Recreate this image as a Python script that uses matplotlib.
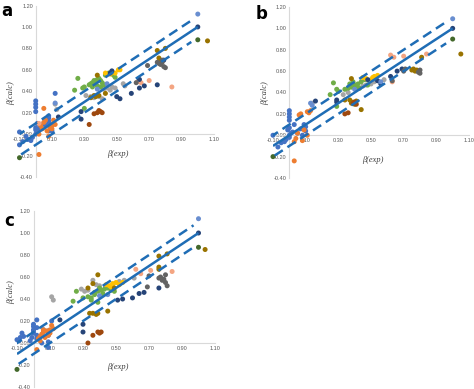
import matplotlib
matplotlib.use("Agg")
import matplotlib.pyplot as plt

plt.rcParams['lines.scale_dashes'] = False

W, H = 474, 389

# ---------------- series colours (Excel palette) ----------------
series_names = ["blue", "orange", "lorange", "gray", "green", "gold",
                "dgold", "brown", "dblue", "dgray", "lblue", "dgreen"]
series_colors = ["#4472C4", "#ED7D31", "#F4A582", "#A5A5A5", "#70AD47", "#FFC000",
                 "#997300", "#9E480E", "#264478", "#636363", "#698ED0", "#43682B"]

# ---------------- panel a ----------------
a_blue_x = [0.00, 0.00, 0.00, 0.00, 0.00, 0.00, 0.01, 0.02, 0.03, 0.00, -0.02, -0.05, -0.08, -0.10, -0.10, -0.06, 0.08, 0.08, 0.08, 0.08, 0.06, 0.05, 0.12, 0.10, 0.08, 0.01, -0.03]
a_blue_y = [0.31, 0.28, 0.25, 0.21, 0.06, 0.04, 0.02, 0.05, 0.07, 0.00, -0.03, -0.05, -0.07, -0.10, 0.02, -0.02, 0.17, 0.15, 0.12, 0.10, 0.08, 0.10, 0.38, 0.03, 0.03, 0.10, -0.06]
a_orange_x = [0.05, 0.03, 0.05, 0.07, 0.10, 0.10, 0.11, 0.09, 0.08, 0.02, 0.06, 0.02, 0.11, 0.12, 0.04]
a_orange_y = [0.24, 0.08, 0.11, 0.03, 0.08, 0.05, 0.10, 0.06, -0.02, -0.19, 0.13, 0.00, 0.13, 0.09, 0.05]
a_lorange_x = [0.84, 0.70, 0.63, 0.65, 0.02]
a_lorange_y = [0.44, 0.50, 0.49, 0.48, 0.10]
a_gray_x = [0.12, 0.13, 0.31, 0.34, 0.36, 0.39, 0.41, 0.42, 0.44, 0.47, 0.49, 0.54, 0.55, 0.46, 0.40]
a_gray_y = [0.28, 0.23, 0.36, 0.35, 0.34, 0.35, 0.33, 0.42, 0.43, 0.44, 0.43, 0.47, 0.45, 0.41, 0.44]
a_green_x = [0.26, 0.24, 0.29, 0.30, 0.33, 0.34, 0.35, 0.36, 0.37, 0.38, 0.39, 0.40, 0.41, 0.42, 0.43, 0.45, 0.48, 0.49, 0.35, 0.38, 0.40, 0.37, 0.30]
a_green_y = [0.52, 0.41, 0.43, 0.24, 0.46, 0.47, 0.48, 0.50, 0.49, 0.51, 0.52, 0.50, 0.48, 0.46, 0.55, 0.57, 0.55, 0.53, 0.44, 0.45, 0.44, 0.47, 0.44]
a_gold_x = [0.43, 0.46, 0.49, 0.51, 0.52, 0.47]
a_gold_y = [0.57, 0.56, 0.57, 0.60, 0.60, 0.58]
a_dgold_x = [0.38, 0.37, 0.36, 0.43, 0.75, 0.80, 0.76, 0.77, 1.06, 0.34, 0.39]
a_dgold_y = [0.55, 0.35, 0.36, 0.38, 0.78, 0.80, 0.71, 0.68, 0.87, 0.34, 0.36]
a_brown_x = [0.39, 0.40, 0.41, 0.38, 0.36, 0.33]
a_brown_y = [0.22, 0.21, 0.20, 0.20, 0.19, 0.09]
a_dblue_x = [0.28, 0.28, 0.14, 0.50, 0.52, 0.59, 0.64, 0.67, 0.75, 0.64, 0.47, 0.46, 1.00, 0.79]
a_dblue_y = [0.21, 0.14, 0.16, 0.35, 0.33, 0.38, 0.43, 0.45, 0.46, 0.51, 0.59, 0.57, 1.00, 0.69]
a_dgray_x = [0.69, 0.76, 0.77, 0.78, 0.79, 0.80, 0.78, 0.62, 0.75]
a_dgray_y = [0.64, 0.66, 0.65, 0.67, 0.63, 0.62, 0.69, 0.48, 0.67]
a_lblue_x = [1.00, 0.38, 0.12, 0.44]
a_lblue_y = [1.12, 0.42, 0.29, 0.47]
a_dgreen_x = [1.00, -0.10]
a_dgreen_y = [0.88, -0.22]

# ---------------- panel b ----------------
b_blue_x = [0.00, 0.00, 0.00, 0.00, 0.00, 0.01, 0.00, -0.01, -0.03, -0.05, -0.10, 0.10, 0.10, 0.09, 0.07, 0.05, 0.02, -0.02, 0.00, 0.03, -0.07, 0.08]
b_blue_y = [0.23, 0.20, 0.17, 0.14, 0.00, 0.02, -0.02, 0.05, -0.06, -0.07, 0.00, 0.08, 0.04, 0.10, 0.06, 0.02, 0.03, -0.04, 0.07, 0.10, -0.11, 0.00]
b_orange_x = [0.11, 0.13, 0.07, 0.06, 0.04, 0.03, 0.03, 0.08, 0.11, 0.12, 0.05, 0.09]
b_orange_y = [0.22, 0.23, 0.20, 0.19, -0.03, -0.06, -0.24, -0.05, 0.00, 0.21, 0.02, 0.05]
b_lorange_x = [0.62, 0.64, 0.70, 0.84, 0.63]
b_lorange_y = [0.75, 0.73, 0.74, 0.76, 0.50]
b_gray_x = [0.58, 0.33, 0.36, 0.40, 0.42, 0.45, 0.47, 0.50, 0.14, 0.52]
b_gray_y = [0.52, 0.38, 0.40, 0.45, 0.44, 0.46, 0.47, 0.48, 0.30, 0.50]
b_green_x = [0.27, 0.29, 0.30, 0.25, 0.29, 0.38, 0.40, 0.42, 0.44, 0.46, 0.48, 0.36, 0.34, 0.39, 0.41, 0.43, 0.37]
b_green_y = [0.49, 0.43, 0.41, 0.38, 0.27, 0.45, 0.47, 0.48, 0.50, 0.52, 0.47, 0.44, 0.43, 0.50, 0.46, 0.44, 0.48]
b_gold_x = [0.50, 0.51, 0.52, 0.54, 0.47, 0.45]
b_gold_y = [0.52, 0.54, 0.55, 0.56, 0.53, 0.54]
b_dgold_x = [0.37, 0.38, 0.39, 0.40, 0.41, 0.44, 0.38, 0.81, 0.75, 0.76, 0.77, 0.78, 1.05, 0.34]
b_dgold_y = [0.33, 0.30, 0.31, 0.29, 0.32, 0.24, 0.53, 0.73, 0.61, 0.62, 0.60, 0.61, 0.76, 0.33]
b_brown_x = [0.34, 0.36, 0.39, 0.40, 0.41]
b_brown_y = [0.20, 0.21, 0.30, 0.31, 0.29]
b_dblue_x = [0.29, 0.29, 0.16, 0.54, 0.56, 0.62, 0.66, 0.69, 1.00, 0.48]
b_dblue_y = [0.33, 0.31, 0.32, 0.51, 0.48, 0.55, 0.60, 0.62, 1.00, 0.52]
b_dgray_x = [0.71, 0.70, 0.80, 0.80, 0.79, 0.63]
b_dgray_y = [0.62, 0.60, 0.58, 0.61, 0.59, 0.51]
b_lblue_x = [1.00, 0.13, 0.14, 0.40, 0.56]
b_lblue_y = [1.09, 0.30, 0.28, 0.43, 0.50]
b_dgreen_x = [1.00, -0.10]
b_dgreen_y = [0.90, -0.20]

# ---------------- panel c ----------------
c_blue_x = [0.00, 0.00, 0.00, 0.00, 0.02, 0.02, 0.02, -0.02, 0.00, -0.01, 0.02, 0.05, 0.09, 0.09, 0.09, 0.09, -0.06, -0.08, -0.10, -0.09, -0.07, 0.06, 0.11]
c_blue_y = [0.17, 0.15, 0.12, 0.09, 0.14, 0.07, 0.04, 0.02, 0.11, 0.05, 0.21, 0.00, 0.11, 0.07, 0.01, -0.04, 0.06, 0.05, 0.03, 0.02, 0.09, 0.12, 0.20]
c_orange_x = [0.02, 0.04, 0.05, 0.06, 0.07, 0.08, 0.09, 0.10, 0.11, 0.12, 0.03, 0.06, 0.10, 0.04]
c_orange_y = [-0.06, 0.06, 0.08, 0.10, 0.05, 0.11, 0.07, 0.12, 0.16, 0.13, 0.04, 0.12, 0.09, 0.02]
c_lorange_x = [0.62, 0.65, 0.71, 0.84]
c_lorange_y = [0.67, 0.63, 0.66, 0.65]
c_gray_x = [0.11, 0.12, 0.29, 0.31, 0.36, 0.38, 0.40, 0.48, 0.52, 0.55, 0.61, 0.33, 0.44]
c_gray_y = [0.42, 0.39, 0.49, 0.47, 0.57, 0.53, 0.52, 0.53, 0.56, 0.57, 0.59, 0.48, 0.51]
c_green_x = [0.26, 0.24, 0.33, 0.35, 0.37, 0.39, 0.41, 0.43, 0.45, 0.47, 0.37, 0.39, 0.35, 0.42, 0.49, 0.30, 0.40]
c_green_y = [0.47, 0.38, 0.42, 0.41, 0.46, 0.47, 0.48, 0.49, 0.50, 0.48, 0.44, 0.37, 0.39, 0.45, 0.47, 0.41, 0.50]
c_gold_x = [0.44, 0.46, 0.48, 0.50, 0.52, 0.54, 0.47]
c_gold_y = [0.53, 0.52, 0.54, 0.55, 0.53, 0.55, 0.51]
c_dgold_x = [0.39, 0.36, 0.34, 0.36, 0.38, 0.39, 0.45, 0.76, 0.81, 0.76, 0.76, 1.04, 0.49, 0.33]
c_dgold_y = [0.62, 0.54, 0.27, 0.27, 0.26, 0.27, 0.29, 0.79, 0.81, 0.69, 0.67, 0.85, 0.50, 0.50]
c_brown_x = [0.39, 0.40, 0.41, 0.36, 0.33]
c_brown_y = [0.10, 0.09, 0.10, 0.07, 0.00]
c_dblue_x = [0.30, 0.30, 0.16, 0.51, 0.54, 0.60, 0.64, 0.67, 0.76, 1.00]
c_dblue_y = [0.17, 0.10, 0.21, 0.39, 0.40, 0.41, 0.45, 0.46, 0.50, 1.00]
c_dgray_x = [0.70, 0.77, 0.78, 0.79, 0.80, 0.80, 0.81, 0.69, 0.76]
c_dgray_y = [0.61, 0.60, 0.57, 0.58, 0.62, 0.55, 0.52, 0.51, 0.59]
c_lblue_x = [1.00, 0.45, 0.40]
c_lblue_y = [1.13, 0.44, 0.43]
c_dgreen_x = [1.00, -0.10]
c_dgreen_y = [0.87, -0.24]

x_ticks = [-0.10, 0.10, 0.30, 0.50, 0.70, 0.90, 1.10]
y_ticks = [-0.40, -0.20, 0.00, 0.20, 0.40, 0.60, 0.80, 1.00, 1.20]
panel_letters = ["a", "b", "c"]

# dashed-band offset
band = 0.1

g = globals()

fig = plt.figure(figsize=(W / 100, H / 100), dpi=100)

# pixel boxes: (left, right, top, bottom)
boxes = {"a": (19.5, 214, 5.5, 177), "b": (273, 469, 7, 178), "c": (17, 215, 211, 387)}
letter_pos = {"a": (1, 2), "b": (256, 5), "c": (4, 212)}
ylab_pos = {"a": (11, 93), "b": (265, 93), "c": (11, 292)}
xlab_pos = {"a": (118, 154), "b": (373, 160), "c": (118, 367)}

line_col = "#1F6DB5"

for p in panel_letters:
    l, r, t, b = boxes[p]
    ax = fig.add_axes([l / W, 1 - b / H, (r - l) / W, (b - t) / H])
    ax.set_xlim(-0.10, 1.10)
    ax.set_ylim(-0.40, 1.20)
    for s in ("top", "right"):
        ax.spines[s].set_visible(False)
    ax.spines["left"].set_position(("data", 0))
    ax.spines["bottom"].set_position(("data", 0))
    for s in ("left", "bottom"):
        ax.spines[s].set_color("#D9D9D9")
        ax.spines[s].set_linewidth(0.8)
    ax.set_xticks(x_ticks)
    ax.set_yticks(y_ticks)
    ax.set_xticklabels([f"{v:.2f}" for v in x_ticks])
    ax.set_yticklabels([f"{v:.2f}" for v in y_ticks])
    ax.tick_params(length=0, labelsize=4, labelcolor="#595959", pad=2)
    for lab in ax.get_xticklabels() + ax.get_yticklabels():
        lab.set_family("Liberation Sans")
    ax.patch.set_alpha(0)

    for name, col in zip(series_names, series_colors):
        xs = g[f"{p}_{name}_x"]
        ys = g[f"{p}_{name}_y"]
        ax.scatter(xs, ys, s=13, color=col, edgecolors="none", zorder=3, clip_on=False)

    ax.plot([-0.10, 1.00], [-0.10, 1.00], color=line_col, lw=1.8, zorder=4,
            solid_capstyle="butt")
    ax.plot([-0.12, 0.97], [-0.12 + band, 0.97 + band], color=line_col, lw=1.8,
            dashes=(7, 4), zorder=4, dash_capstyle="butt")
    ax.plot([-0.09, 0.96], [-0.09 - band, 0.96 - band], color=line_col, lw=1.8,
            dashes=(7, 4), zorder=4, dash_capstyle="butt")

    lx, ly = letter_pos[p]
    fig.text(lx / W, 1 - ly / H, p, fontsize=12, fontweight="bold",
             family="DejaVu Sans", ha="left", va="top")
    yx, yy = ylab_pos[p]
    fig.text(yx / W, 1 - yy / H, "β(calc)", fontsize=6, style="italic",
             family="Liberation Serif", rotation=90, ha="center", va="center",
             color="#404040")
    xx, xy = xlab_pos[p]
    fig.text(xx / W, 1 - xy / H, "β(exp)", fontsize=6, style="italic",
             family="Liberation Serif", ha="center", va="center", color="#404040")

fig.savefig("out.png", dpi=100)
